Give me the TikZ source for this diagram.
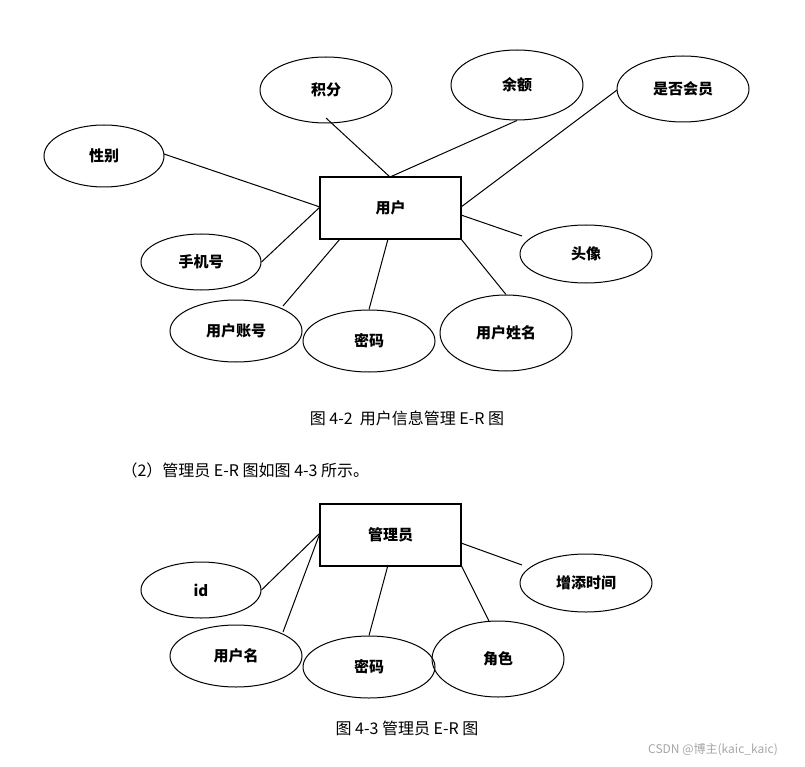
\documentclass[tikz,border=0pt]{standalone}
\usepackage{fontspec}
\setmainfont{Liberation Serif}
\newfontfamily\cjk{Noto Sans CJK SC}
\usetikzlibrary{shapes.geometric}
\begin{document}
\begin{tikzpicture}[x=1pt,y=-1pt,
  ent/.style={draw,line width=1.2pt,minimum width=141pt,minimum height=62pt,font=\cjk\bfseries\fontsize{15}{17}\selectfont},
  attr/.style={draw,line width=1pt,ellipse,inner sep=0pt,font=\cjk\bfseries\fontsize{15}{17}\selectfont},
  captxt/.style={font=\cjk\fontsize{16}{18}\selectfont},
  lk/.style={line width=1pt}]
\useasboundingbox (0,0) rectangle (805,767);
% top
\node[ent] (u) at (390.5,208) {用户};
\node[attr,minimum width=132pt,minimum height=66pt] (jf) at (326,90) {积分};
\node[attr,minimum width=132pt,minimum height=70pt] (ye) at (517,85) {余额};
\node[attr,minimum width=132pt,minimum height=66pt] (hy) at (683,89) {是否会员};
\node[attr,minimum width=120pt,minimum height=62pt] (xb) at (104,156) {性别};
\node[attr,minimum width=120pt,minimum height=56pt] (sj) at (201,262) {手机号};
\node[attr,minimum width=132pt,minimum height=58pt] (tx) at (586,254) {头像};
\node[attr,minimum width=132pt,minimum height=62pt] (zh) at (236,331) {用户账号};
\node[attr,minimum width=132pt,minimum height=62pt] (mm) at (369,341) {密码};
\node[attr,minimum width=132pt,minimum height=76pt] (xm) at (506,333) {用户姓名};
\coordinate (ut) at (390,177);
\coordinate (ur1) at (461,207);
\coordinate (ul1) at (320,207);
\coordinate (ur2) at (461,215);
\coordinate (ub1) at (340,239);
\coordinate (ub2) at (388,239);
\coordinate (ub3) at (461,239);
\coordinate (a1) at (326,118);
\coordinate (a2) at (617,90);
\coordinate (a3) at (164,154);
\coordinate (a4) at (522,236);
\coordinate (a5) at (283,306);
\draw[lk] (a1) -- (ut);
\draw[lk] (ye.south) -- (ut);
\draw[lk] (a2) -- (ur1);
\draw[lk] (a3) -- (ul1);
\draw[lk] (sj.east) -- (ul1);
\draw[lk] (a4) -- (ur2);
\draw[lk] (a5) -- (ub1);
\draw[lk] (mm.north) -- (ub2);
\draw[lk] (xm.north) -- (ub3);
\node[captxt] (c1) at (407,418) {图 4-2 \ 用户信息管理 E-R 图};
\node[captxt,anchor=west] (t1) at (118,470) {（2）管理员 E-R 图如图 4-3 所示。};
% bottom
\node[ent] (g) at (390.5,535) {管理员};
\node[attr,minimum width=120pt,minimum height=56pt] (id) at (201,590) {id};
\node[attr,minimum width=132pt,minimum height=62pt] (yh) at (236,656) {用户名};
\node[attr,minimum width=132pt,minimum height=62pt] (mm2) at (369,667) {密码};
\node[attr,minimum width=132pt,minimum height=76pt] (js) at (498,659) {角色};
\node[attr,minimum width=132pt,minimum height=58pt] (zt) at (586,583) {增添时间};
\coordinate (gl) at (320,533);
\coordinate (gb2) at (388,565);
\coordinate (gb3) at (461,565);
\coordinate (gr) at (461,543);
\coordinate (b1) at (283,632);
\coordinate (b2) at (489,621);
\coordinate (b3) at (522,565);
\draw[lk] (id.east) -- (gl);
\draw[lk] (b1) -- (gl);
\draw[lk] (mm2.north) -- (gb2);
\draw[lk] (b2) -- (gb3);
\draw[lk] (b3) -- (gr);
\node[captxt] (c2) at (407,728) {图 4-3 管理员 E-R 图};
\node[font=\cjk\fontsize{12}{14}\selectfont,text=gray!70] (wm) at (713,750) {CSDN @博主(kaic\_kaic)};
\end{tikzpicture}
\end{document}
